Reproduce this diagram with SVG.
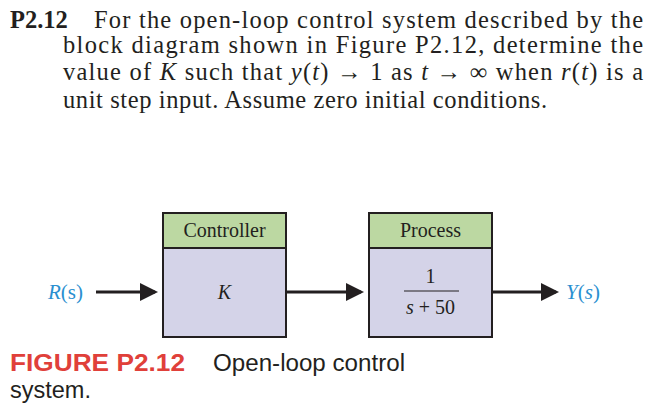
<svg xmlns="http://www.w3.org/2000/svg" width="654" height="404" viewBox="0 0 654 404">
<style>
.t{font-family:"Liberation Serif",serif;font-size:24.5px;fill:#231f20}
.b{font-family:"Liberation Serif",serif;font-size:20px;fill:#231f20}
.s{font-family:"Liberation Serif",serif;font-size:21px;fill:#2a8fd0;font-style:italic}
.h{fill:#bcd8a2;stroke:#231f20;stroke-width:2}
.bd{fill:#d4d3e8;stroke:#231f20;stroke-width:2}
.c{stroke:#231f20;stroke-width:3;fill:none;marker-end:url(#a)}
.cap{font-family:"Liberation Sans",sans-serif;font-size:23.5px;fill:#231f20}
.red{fill:#e0403a;font-weight:bold}
</style>
<defs><marker id="a" markerWidth="6" markerHeight="6" refX="5" refY="3" orient="auto" markerUnits="strokeWidth"><path d="M0,0L6,3L0,6Z" fill="#231f20"/></marker></defs>
<rect width="654" height="404" fill="#fff"/>
<g id="problem">
<text class="t" x="10" y="28" font-weight="bold">P2.12</text>
<text class="t" x="94" y="28" textLength="549" lengthAdjust="spacing">For the open-loop control system described by the</text>
<text class="t" x="63" y="53" textLength="580" lengthAdjust="spacing">block diagram shown in Figure P2.12, determine the</text>
<text class="t" x="63" y="80" textLength="580" lengthAdjust="spacing">value of <tspan font-style="italic">K</tspan> such that <tspan font-style="italic">y</tspan>(<tspan font-style="italic">t</tspan>) → 1 as <tspan font-style="italic">t</tspan> → ∞ when <tspan font-style="italic">r</tspan>(<tspan font-style="italic">t</tspan>) is a</text>
<text class="t" x="63" y="108" textLength="484" lengthAdjust="spacing">unit step input. Assume zero initial conditions.</text>
</g>
<g id="controller">
<rect class="h" x="163" y="213" width="123" height="35"/>
<rect class="bd" x="163" y="248" width="123" height="89"/>
<text class="b" x="224.5" y="237" text-anchor="middle">Controller</text>
<text class="b" x="224.5" y="299" text-anchor="middle" font-style="italic">K</text>
</g>
<g id="process">
<rect class="h" x="369" y="213" width="123" height="35"/>
<rect class="bd" x="369" y="248" width="123" height="89"/>
<text class="b" x="430.5" y="237" text-anchor="middle">Process</text>
<text class="b" x="430.5" y="283" text-anchor="middle">1</text>
<line x1="404" y1="291" x2="459" y2="291" stroke="#231f20" stroke-width="1"/>
<text class="b" x="430.5" y="314" text-anchor="middle"><tspan font-style="italic">s</tspan> + 50</text>
</g>
<g id="connectors">
<line class="c" x1="96" y1="292" x2="155" y2="292"/>
<line class="c" x1="287" y1="292" x2="361" y2="292"/>
<line class="c" x1="493" y1="292" x2="556" y2="292"/>
</g>
<g id="labels">
<text class="s" x="48" y="299">R<tspan font-style="normal">(s)</tspan></text>
<text class="s" x="566" y="299">Y<tspan font-style="normal">(</tspan>s<tspan font-style="normal">)</tspan></text>
</g>
<g id="caption">
<text class="cap red" x="10" y="371" textLength="175" lengthAdjust="spacingAndGlyphs">FIGURE P2.12</text>
<text class="cap" x="213" y="371" textLength="192" lengthAdjust="spacingAndGlyphs">Open-loop control</text>
<text class="cap" x="10" y="398">system.</text>
</g>
</svg>
